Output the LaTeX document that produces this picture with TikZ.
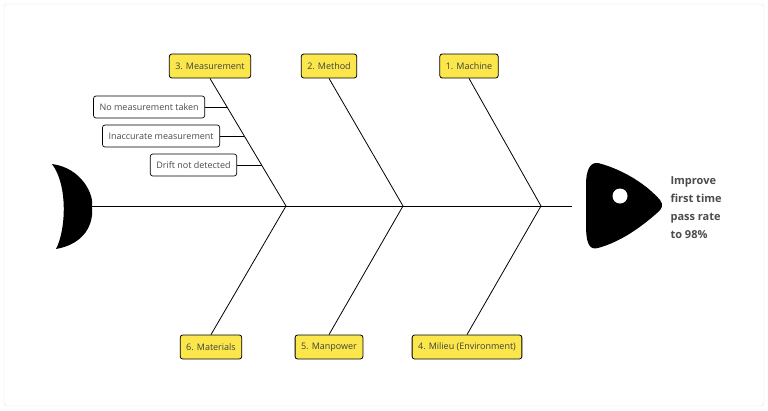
\documentclass[tikz,border=0pt]{standalone}
\usepackage{fontspec}
\setmainfont{Open Sans}
\begin{document}
\begin{tikzpicture}[x=1pt,y=-1pt,
  cat/.style={draw=black,fill=catyellow,rounded corners=2.5pt,line width=0.8pt,font=\fontsize{9}{11}\selectfont,text=black!75,minimum height=24,inner xsep=6pt},
  cause/.style={draw=black,fill=white,rounded corners=2.5pt,line width=0.7pt,font=\fontsize{9}{11}\selectfont,text=black!70,minimum height=22,inner xsep=6pt},
  bone/.style={line width=0.8pt}]
\definecolor{catyellow}{HTML}{FBE74B}
\useasboundingbox (0,0) rectangle (768,410);
\draw[black!12,rounded corners=3pt] (4,4) rectangle (764,406);
% spine
\coordinate (j1) at (286,206);
\coordinate (j2) at (403,206);
\coordinate (j3) at (541,206);
\coordinate (sL) at (90,206);
\coordinate (sR) at (572,206);
\draw[bone] (sL) -- (sR);
% tail
\fill (52,164) .. controls (82,168) and (94,195) .. (92,206) .. controls (94,225) and (84,244) .. (56,249)
  .. controls (66,230) and (68,185) .. (52,164) -- cycle;
% head
\fill (598,163) .. controls (625,170) and (648,186) .. (660,200) .. controls (664,205) and (662,209) .. (657,213)
  .. controls (640,228) and (620,242) .. (598,248) .. controls (588,251) and (586,240) .. (586,225)
  -- (586,185) .. controls (586,170) and (590,162) .. (598,163) -- cycle;
\fill[white] (620,196) circle (7.5);
\node[anchor=west,align=left,font=\fontsize{11}{18}\selectfont\bfseries,text=black!70] (goal) at (667,208) {Improve\\first time\\pass rate\\to 98\%};
% categories
\node[cat] (c3) at (210,66) {3. Measurement};
\node[cat] (c2) at (329,66) {2. Method};
\node[cat] (c1) at (469,66) {1. Machine};
\node[cat] (c6) at (211,347) {6. Materials};
\node[cat] (c5) at (329,347) {5. Manpower};
\node[cat] (c4) at (467,347) {4. Milieu (Environment)};
\draw[bone] (j1) -- (c3.south);
\draw[bone] (j2) -- (c2.south);
\draw[bone] (j3) -- (c1.south);
\draw[bone] (j1) -- (c6.north);
\draw[bone] (j2) -- (c5.north);
\draw[bone] (j3) -- (c4.north);
% causes
\node[cause,anchor=east] (a1) at (205,107) {No measurement taken};
\node[cause,anchor=east] (a2) at (220,136) {Inaccurate measurement};
\node[cause,anchor=east] (a3) at (237,165) {Drift not detected};
\coordinate (b1) at (227.2,107);
\coordinate (b2) at (244.4,136);
\coordinate (b3) at (261.7,165);
\draw[bone] (a1.east) -- (b1);
\draw[bone] (a2.east) -- (b2);
\draw[bone] (a3.east) -- (b3);
\end{tikzpicture}
\end{document}
